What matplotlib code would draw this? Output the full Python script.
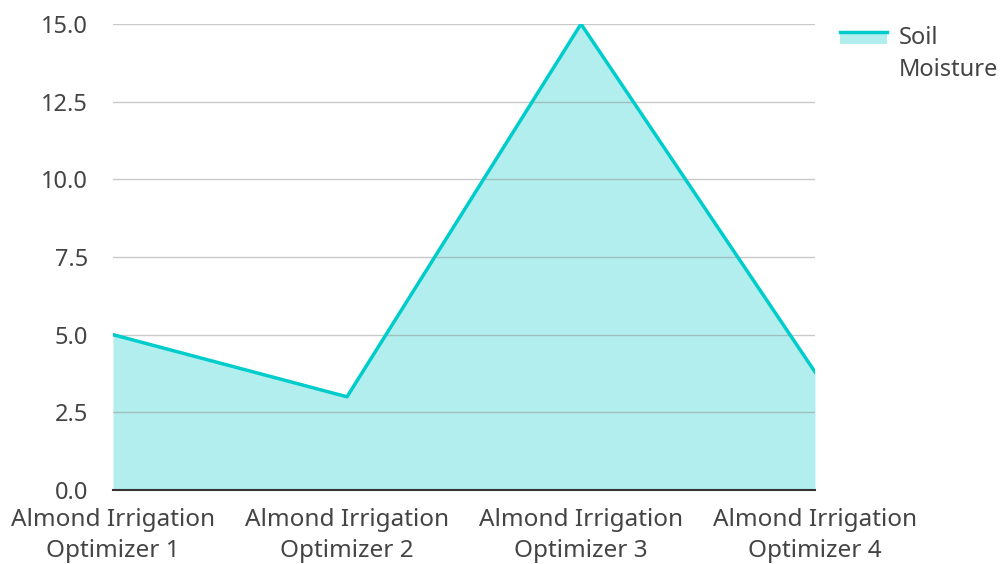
import matplotlib
matplotlib.use("Agg")
import matplotlib.pyplot as plt
from matplotlib.lines import Line2D
from matplotlib.patches import Rectangle
from matplotlib.legend_handler import HandlerBase

plt.rcParams['font.family'] = ['Noto Sans', 'DejaVu Sans']

categories = ["Almond Irrigation\nOptimizer 1", "Almond Irrigation\nOptimizer 2",
              "Almond Irrigation\nOptimizer 3", "Almond Irrigation\nOptimizer 4"]
soil_moisture = [5.0, 3.0, 15.0, 3.8]
yticks = [0.0, 2.5, 5.0, 7.5, 10.0, 12.5, 15.0]

line_color = '#00CCCC'
fill_color = '#B2EEEE'
text_color = '#444444'


class AreaHandler(HandlerBase):
    # line on top of a fill box, lined up with the first text line
    def create_artists(self, legend, orig_handle, xdescent, ydescent,
                       width, height, fontsize, trans):
        cy = -ydescent + height / 2.0
        ly = cy + 16.5
        rect = Rectangle((-xdescent, ly - 9), width, 9,
                         facecolor=fill_color, edgecolor='none', transform=trans)
        ln = Line2D([-xdescent, -xdescent + width], [ly, ly],
                    color=line_color, lw=2.5, transform=trans)
        return [rect, ln]


fig = plt.figure(figsize=(10.05, 5.64), dpi=100)
ax = fig.add_axes([113/1005, 1 - 490/564, (815-113)/1005, (490-24)/564])

x = list(range(len(categories)))
ax.fill_between(x, soil_moisture, 0, color=fill_color, lw=0, zorder=1)
ax.plot(x, soil_moisture, color=line_color, lw=2.5, zorder=3)

ax.set_xlim(0, len(categories) - 1)
ax.set_ylim(0, 15)
ax.set_yticks(yticks)
ax.set_yticklabels(["%.1f" % v for v in yticks])
ax.set_xticks(x)
ax.set_xticklabels(categories, linespacing=1.4)

ax.yaxis.grid(True, color='#888888', alpha=0.45, lw=1, zorder=2)
ax.set_axisbelow(False)
for s in ['top', 'right', 'left']:
    ax.spines[s].set_visible(False)
ax.spines['bottom'].set_color('#333333')
ax.spines['bottom'].set_linewidth(1.5)
ax.spines['bottom'].set_zorder(4)

ax.tick_params(axis='both', length=0, labelsize=17.5, colors=text_color)
ax.tick_params(axis='y', labelsize=17, pad=18)
ax.tick_params(axis='x', pad=13)

leg = fig.legend([object()], ["Soil\nMoisture"], loc='upper left',
                 bbox_to_anchor=(840/1005, 1 - 26/564), frameon=False,
                 fontsize=17, labelcolor=text_color, handlelength=2.0,
                 handleheight=0.55, handletextpad=0.5,
                 borderpad=0, borderaxespad=0,
                 handler_map={object: AreaHandler()})
leg.get_texts()[0].set_linespacing(1.45)

fig.savefig("out.png", dpi=100)
